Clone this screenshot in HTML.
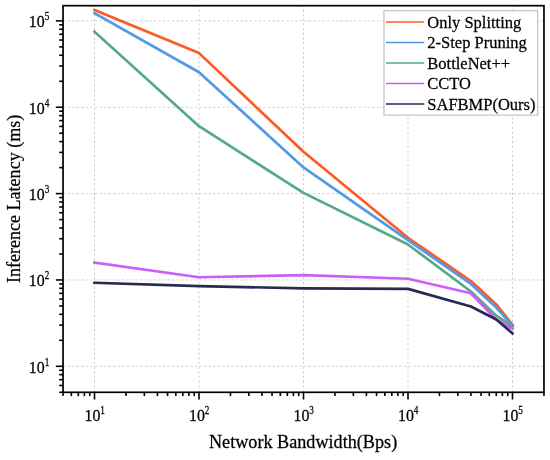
<!DOCTYPE html>
<html><head><meta charset="utf-8"><title>Inference Latency vs Network Bandwidth</title>
<style>html,body{margin:0;padding:0;background:#fff;width:550px;height:460px;overflow:hidden}svg{display:block}</style>
</head><body>
<svg width="550" height="460" viewBox="0 0 550 460">
<style>text{stroke:#000;stroke-width:0.25px;paint-order:fill}</style>
<rect width="550" height="460" fill="#fff"/>
<g stroke="#cfcfcf" stroke-width="1" stroke-dasharray="2.35 2.35" fill="none"><line x1="94.50" y1="392.29" x2="94.50" y2="5.69"/><line x1="199.00" y1="392.29" x2="199.00" y2="5.69"/><line x1="303.50" y1="392.29" x2="303.50" y2="5.69"/><line x1="408.00" y1="392.29" x2="408.00" y2="5.69"/><line x1="512.50" y1="392.29" x2="512.50" y2="5.69"/></g>
<g stroke="#cfcfcf" stroke-width="1" stroke-dasharray="2.3 2.25" fill="none"><line x1="63.04" y1="366.30" x2="543.96" y2="366.30"/><line x1="63.04" y1="279.95" x2="543.96" y2="279.95"/><line x1="63.04" y1="193.60" x2="543.96" y2="193.60"/><line x1="63.04" y1="107.25" x2="543.96" y2="107.25"/><line x1="63.04" y1="20.90" x2="543.96" y2="20.90"/></g>
<polyline points="94.50,9.93 199.00,53.12 303.50,151.81 408.00,237.79 470.92,280.99 496.31,304.39 512.50,324.69" fill="none" stroke="#ff5a26" stroke-width="2.7" stroke-linejoin="round" stroke-linecap="square"/>
<polyline points="94.50,13.23 199.00,72.20 303.50,167.40 408.00,240.09 470.92,283.90 496.31,307.63 512.50,325.68" fill="none" stroke="#5598e6" stroke-width="2.7" stroke-linejoin="round" stroke-linecap="square"/>
<polyline points="94.50,31.69 199.00,126.18 303.50,192.90 408.00,244.50 470.92,291.49 496.31,315.67 512.50,326.56" fill="none" stroke="#55a98a" stroke-width="2.7" stroke-linejoin="round" stroke-linecap="square"/>
<polyline points="94.50,262.56 199.00,277.25 303.50,275.05 408.00,278.75 470.92,293.23 496.31,319.59 512.50,328.66" fill="none" stroke="#cb5ef8" stroke-width="2.7" stroke-linejoin="round" stroke-linecap="square"/>
<polyline points="94.50,282.77 199.00,286.09 303.50,288.32 408.00,288.88 470.92,306.49 496.31,319.49 512.50,333.40" fill="none" stroke="#272b52" stroke-width="2.7" stroke-linejoin="round" stroke-linecap="square"/>
<rect x="63.04" y="5.69" width="480.92" height="386.60" fill="none" stroke="#000" stroke-width="1.7"/>
<g stroke="#000" stroke-width="1.6"><line x1="63.04" y1="392.29" x2="63.04" y2="396.09"/><line x1="63.04" y1="392.29" x2="59.24" y2="392.29"/><line x1="71.32" y1="392.29" x2="71.32" y2="396.09"/><line x1="63.04" y1="385.46" x2="59.24" y2="385.46"/><line x1="78.31" y1="392.29" x2="78.31" y2="396.09"/><line x1="63.04" y1="379.68" x2="59.24" y2="379.68"/><line x1="84.37" y1="392.29" x2="84.37" y2="396.09"/><line x1="63.04" y1="374.67" x2="59.24" y2="374.67"/><line x1="89.72" y1="392.29" x2="89.72" y2="396.09"/><line x1="63.04" y1="370.25" x2="59.24" y2="370.25"/><line x1="94.50" y1="392.29" x2="94.50" y2="399.49"/><line x1="63.04" y1="366.30" x2="55.84" y2="366.30"/><line x1="125.96" y1="392.29" x2="125.96" y2="396.09"/><line x1="63.04" y1="340.31" x2="59.24" y2="340.31"/><line x1="144.36" y1="392.29" x2="144.36" y2="396.09"/><line x1="63.04" y1="325.10" x2="59.24" y2="325.10"/><line x1="157.42" y1="392.29" x2="157.42" y2="396.09"/><line x1="63.04" y1="314.31" x2="59.24" y2="314.31"/><line x1="167.54" y1="392.29" x2="167.54" y2="396.09"/><line x1="63.04" y1="305.94" x2="59.24" y2="305.94"/><line x1="175.82" y1="392.29" x2="175.82" y2="396.09"/><line x1="63.04" y1="299.11" x2="59.24" y2="299.11"/><line x1="182.81" y1="392.29" x2="182.81" y2="396.09"/><line x1="63.04" y1="293.33" x2="59.24" y2="293.33"/><line x1="188.87" y1="392.29" x2="188.87" y2="396.09"/><line x1="63.04" y1="288.32" x2="59.24" y2="288.32"/><line x1="194.22" y1="392.29" x2="194.22" y2="396.09"/><line x1="63.04" y1="283.90" x2="59.24" y2="283.90"/><line x1="199.00" y1="392.29" x2="199.00" y2="399.49"/><line x1="63.04" y1="279.95" x2="55.84" y2="279.95"/><line x1="230.46" y1="392.29" x2="230.46" y2="396.09"/><line x1="63.04" y1="253.96" x2="59.24" y2="253.96"/><line x1="248.86" y1="392.29" x2="248.86" y2="396.09"/><line x1="63.04" y1="238.75" x2="59.24" y2="238.75"/><line x1="261.92" y1="392.29" x2="261.92" y2="396.09"/><line x1="63.04" y1="227.96" x2="59.24" y2="227.96"/><line x1="272.04" y1="392.29" x2="272.04" y2="396.09"/><line x1="63.04" y1="219.59" x2="59.24" y2="219.59"/><line x1="280.32" y1="392.29" x2="280.32" y2="396.09"/><line x1="63.04" y1="212.76" x2="59.24" y2="212.76"/><line x1="287.31" y1="392.29" x2="287.31" y2="396.09"/><line x1="63.04" y1="206.98" x2="59.24" y2="206.98"/><line x1="293.37" y1="392.29" x2="293.37" y2="396.09"/><line x1="63.04" y1="201.97" x2="59.24" y2="201.97"/><line x1="298.72" y1="392.29" x2="298.72" y2="396.09"/><line x1="63.04" y1="197.55" x2="59.24" y2="197.55"/><line x1="303.50" y1="392.29" x2="303.50" y2="399.49"/><line x1="63.04" y1="193.60" x2="55.84" y2="193.60"/><line x1="334.96" y1="392.29" x2="334.96" y2="396.09"/><line x1="63.04" y1="167.61" x2="59.24" y2="167.61"/><line x1="353.36" y1="392.29" x2="353.36" y2="396.09"/><line x1="63.04" y1="152.40" x2="59.24" y2="152.40"/><line x1="366.42" y1="392.29" x2="366.42" y2="396.09"/><line x1="63.04" y1="141.61" x2="59.24" y2="141.61"/><line x1="376.54" y1="392.29" x2="376.54" y2="396.09"/><line x1="63.04" y1="133.24" x2="59.24" y2="133.24"/><line x1="384.82" y1="392.29" x2="384.82" y2="396.09"/><line x1="63.04" y1="126.41" x2="59.24" y2="126.41"/><line x1="391.81" y1="392.29" x2="391.81" y2="396.09"/><line x1="63.04" y1="120.63" x2="59.24" y2="120.63"/><line x1="397.87" y1="392.29" x2="397.87" y2="396.09"/><line x1="63.04" y1="115.62" x2="59.24" y2="115.62"/><line x1="403.22" y1="392.29" x2="403.22" y2="396.09"/><line x1="63.04" y1="111.20" x2="59.24" y2="111.20"/><line x1="408.00" y1="392.29" x2="408.00" y2="399.49"/><line x1="63.04" y1="107.25" x2="55.84" y2="107.25"/><line x1="439.46" y1="392.29" x2="439.46" y2="396.09"/><line x1="63.04" y1="81.26" x2="59.24" y2="81.26"/><line x1="457.86" y1="392.29" x2="457.86" y2="396.09"/><line x1="63.04" y1="66.05" x2="59.24" y2="66.05"/><line x1="470.92" y1="392.29" x2="470.92" y2="396.09"/><line x1="63.04" y1="55.26" x2="59.24" y2="55.26"/><line x1="481.04" y1="392.29" x2="481.04" y2="396.09"/><line x1="63.04" y1="46.89" x2="59.24" y2="46.89"/><line x1="489.32" y1="392.29" x2="489.32" y2="396.09"/><line x1="63.04" y1="40.06" x2="59.24" y2="40.06"/><line x1="496.31" y1="392.29" x2="496.31" y2="396.09"/><line x1="63.04" y1="34.28" x2="59.24" y2="34.28"/><line x1="502.37" y1="392.29" x2="502.37" y2="396.09"/><line x1="63.04" y1="29.27" x2="59.24" y2="29.27"/><line x1="507.72" y1="392.29" x2="507.72" y2="396.09"/><line x1="63.04" y1="24.85" x2="59.24" y2="24.85"/><line x1="512.50" y1="392.29" x2="512.50" y2="399.49"/><line x1="63.04" y1="20.90" x2="55.84" y2="20.90"/><line x1="543.96" y1="392.29" x2="543.96" y2="396.09"/></g>
<g font-family="'Liberation Serif', 'Times New Roman', serif" font-size="16.8" fill="#000"><text transform="translate(84.50 420.8) scale(0.945 1)">10<tspan font-size="12.2" dy="-6.9" textLength="4.88" lengthAdjust="spacingAndGlyphs">1</tspan></text><text transform="translate(28.85 372.55) scale(0.945 1)">10<tspan font-size="12.2" dy="-6.9" textLength="4.88" lengthAdjust="spacingAndGlyphs">1</tspan></text><text transform="translate(189.00 420.8) scale(0.945 1)">10<tspan font-size="12.2" dy="-6.9" textLength="4.88" lengthAdjust="spacingAndGlyphs">2</tspan></text><text transform="translate(28.85 286.20) scale(0.945 1)">10<tspan font-size="12.2" dy="-6.9" textLength="4.88" lengthAdjust="spacingAndGlyphs">2</tspan></text><text transform="translate(293.50 420.8) scale(0.945 1)">10<tspan font-size="12.2" dy="-6.9" textLength="4.88" lengthAdjust="spacingAndGlyphs">3</tspan></text><text transform="translate(28.85 199.85) scale(0.945 1)">10<tspan font-size="12.2" dy="-6.9" textLength="4.88" lengthAdjust="spacingAndGlyphs">3</tspan></text><text transform="translate(398.00 420.8) scale(0.945 1)">10<tspan font-size="12.2" dy="-6.9" textLength="4.88" lengthAdjust="spacingAndGlyphs">4</tspan></text><text transform="translate(28.85 113.50) scale(0.945 1)">10<tspan font-size="12.2" dy="-6.9" textLength="4.88" lengthAdjust="spacingAndGlyphs">4</tspan></text><text transform="translate(502.50 420.8) scale(0.945 1)">10<tspan font-size="12.2" dy="-6.9" textLength="4.88" lengthAdjust="spacingAndGlyphs">5</tspan></text><text transform="translate(28.85 27.15) scale(0.945 1)">10<tspan font-size="12.2" dy="-6.9" textLength="4.88" lengthAdjust="spacingAndGlyphs">5</tspan></text></g>
<text transform="translate(208.95 448.1) scale(0.9864 1)" font-family="'Liberation Serif', 'Times New Roman', serif" font-size="18.44">Network Bandwidth(Bps)</text>
<text transform="translate(19.9 282.9) rotate(-90) scale(1.0073 1)" font-family="'Liberation Serif', 'Times New Roman', serif" font-size="17.9">Inference Latency (ms)</text>
<rect x="384.0" y="10.7" width="153.70" height="104.40" fill="#fff" stroke="#bdbdbd" stroke-width="1.1"/>
<line x1="386.0" y1="21.90" x2="424.2" y2="21.90" stroke="#ff5a26" stroke-width="1.5"/>
<text transform="translate(427.35 27.50) scale(0.9538 1)" font-family="'Liberation Serif', 'Times New Roman', serif" font-size="17.3">Only Splitting</text>
<line x1="386.0" y1="42.40" x2="424.2" y2="42.40" stroke="#5598e6" stroke-width="1.5"/>
<text transform="translate(427.35 48.00) scale(0.9538 1)" font-family="'Liberation Serif', 'Times New Roman', serif" font-size="17.3">2-Step Pruning</text>
<line x1="386.0" y1="62.90" x2="424.2" y2="62.90" stroke="#55a98a" stroke-width="1.5"/>
<text transform="translate(427.35 68.50) scale(0.9538 1)" font-family="'Liberation Serif', 'Times New Roman', serif" font-size="17.3">BottleNet++</text>
<line x1="386.0" y1="83.40" x2="424.2" y2="83.40" stroke="#cb5ef8" stroke-width="1.5"/>
<text transform="translate(427.35 89.00) scale(0.9538 1)" font-family="'Liberation Serif', 'Times New Roman', serif" font-size="17.3">CCTO</text>
<line x1="386.0" y1="103.90" x2="424.2" y2="103.90" stroke="#272b52" stroke-width="1.5"/>
<text transform="translate(427.35 109.50) scale(0.9538 1)" font-family="'Liberation Serif', 'Times New Roman', serif" font-size="17.3">SAFBMP(Ours)</text>
</svg>
</body></html>
